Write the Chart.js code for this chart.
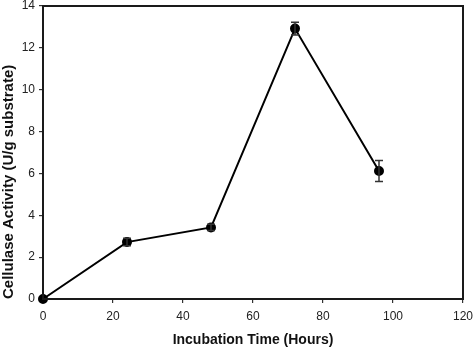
<!DOCTYPE html>
<html>
<head>
<meta charset="utf-8">
<script src="https://cdn.jsdelivr.net/npm/chart.js@4/dist/chart.umd.min.js"></script>
<style>
  html, body { margin: 0; padding: 0; background: #fff; }
  #wrap { width: 474px; height: 349px; position: relative; }
</style>
</head>
<body>
<div id="wrap"><canvas id="c" width="474" height="349"></canvas></div>
<script>
const hours = [0, 24, 48, 72, 96];
const activity = [0, 2.72, 3.42, 12.92, 6.12];
const errors = [0, 0.18, 0.15, 0.3, 0.5];
const xTicks = [0, 20, 40, 60, 80, 100, 120];
const yTicks = [0, 2, 4, 6, 8, 10, 12, 14];

const FONT = "'Liberation Sans', Arial, Helvetica, sans-serif";

const errorBars = {
  id: 'errorBars',
  afterDatasetsDraw(chart) {
    const ctx = chart.ctx;
    const xs = chart.scales.x, ys = chart.scales.y;
    ctx.save();
    ctx.strokeStyle = '#333';
    ctx.lineWidth = 1.5;
    hours.forEach((h, i) => {
      const e = errors[i];
      if (!e) return;
      const px = xs.getPixelForValue(h);
      const top = ys.getPixelForValue(activity[i] + e);
      const bot = ys.getPixelForValue(activity[i] - e);
      ctx.beginPath();
      ctx.moveTo(px, top); ctx.lineTo(px, bot);
      ctx.moveTo(px - 4, top); ctx.lineTo(px + 4, top);
      ctx.moveTo(px - 4, bot); ctx.lineTo(px + 4, bot);
      ctx.stroke();
    });
    ctx.restore();
  }
};

const frame = {
  id: 'frame',
  afterDraw(chart) {
    const a = chart.chartArea, ctx = chart.ctx;
    ctx.save();
    ctx.strokeStyle = '#1a1a1a';
    ctx.lineWidth = 2;
    ctx.strokeRect(a.left, a.top, a.right - a.left, a.bottom - a.top);
    ctx.restore();
  }
};

new Chart(document.getElementById('c'), {
  type: 'line',
  data: {
    datasets: [{
      data: hours.map((h, i) => ({ x: h, y: activity[i] })),
      borderColor: '#000',
      backgroundColor: '#000',
      borderWidth: 2,
      pointRadius: 4,
      pointBackgroundColor: '#000',
      pointBorderColor: '#000',
      tension: 0,
      clip: false
    }]
  },
  options: {
    responsive: false,
    animation: false,
    devicePixelRatio: 1,
    layout: { padding: { top: 6, right: 11, left: 0, bottom: 0 } },
    plugins: { legend: { display: false }, tooltip: { enabled: false } },
    scales: {
      x: {
        type: 'linear',
        min: 0, max: 120,
        afterBuildTicks: s => { s.ticks = xTicks.map(v => ({ value: v })); },
        afterFit: s => { s.height = 50; s.paddingLeft = 0; s.paddingRight = 0; },
        grid: { drawOnChartArea: false, drawTicks: true, tickLength: 4, color: '#333', lineWidth: 1.2 },
        border: { display: true, color: '#1a1a1a', width: 2 },
        ticks: { color: '#222', font: { family: FONT, size: 12 }, padding: 6, maxRotation: 0 },
        title: { display: true, text: 'Incubation Time (Hours)', color: '#111', font: { family: FONT, size: 14, weight: 'bold' }, padding: { top: 0, bottom: 0 } }
      },
      y: {
        type: 'linear',
        min: 0, max: 14,
        afterBuildTicks: s => { s.ticks = yTicks.map(v => ({ value: v })); },
        afterFit: s => { s.width = 43; s.paddingTop = 0; s.paddingBottom = 0; },
        grid: { drawOnChartArea: false, drawTicks: true, tickLength: 4, color: '#333', lineWidth: 1.2 },
        border: { display: true, color: '#1a1a1a', width: 2 },
        ticks: { color: '#222', font: { family: FONT, size: 12 }, padding: 4 },
        title: { display: true, text: 'Cellulase Activity (U/g substrate)', align: 'start', color: '#111', font: { family: FONT, size: 15, weight: 'bold' }, padding: { top: 0, bottom: 0 } }
      }
    }
  },
  plugins: [errorBars, frame]
});
</script>
</body>
</html>
